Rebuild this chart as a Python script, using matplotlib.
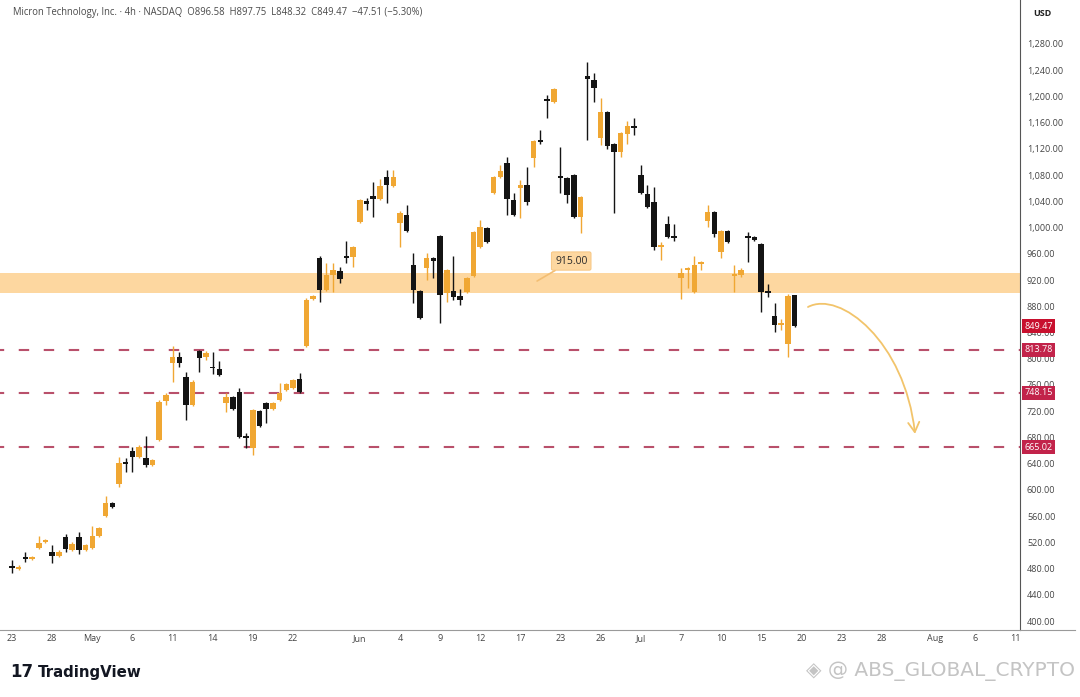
import matplotlib
matplotlib.use("Agg")
import matplotlib.pyplot as plt
from matplotlib.patches import FancyArrowPatch
from matplotlib.path import Path
import numpy as np

# ---------------- data ----------------
opens = [
    483.9, 479.3, 497.6, 494.6, 511.3, 520.5, 505.2, 499.1, 527.6, 508.3,
    528.1, 508.3, 511.3, 529.6, 560.2, 580.0, 609.0, 642.5, 659.3, 650.1,
    648.6, 637.9, 676.1, 735.5, 793.5, 802.6, 772.1, 729.4, 811.8, 802.6,
    787.4, 784.3, 732.5, 741.6, 749.3, 682.1, 663.9, 720.3, 732.5, 723.3,
    737.1, 752.3, 755.4, 769.1, 819.4, 891.1, 953.6, 904.8, 927.7, 933.8,
    956.7, 955.2, 1008.5, 1040.6, 1048.2, 1043.6, 1077.2, 1063.4, 1007.0, 1019.2,
    942.9, 903.3, 938.4, 953.6, 987.2, 900.2, 903.3, 895.7, 901.8, 926.2,
    970.4, 999.4, 1052.8, 1077.2, 1098.5, 1042.1, 1060.4, 1065.0, 1106.1, 1133.6,
    1196.1, 1191.5, 1078.7, 1075.6, 1080.2, 1016.2, 1231.2, 1225.1, 1136.6, 1176.3,
    1127.5, 1115.3, 1142.7, 1154.9, 1080.2, 1051.3, 1039.1, 970.4, 1005.5, 987.2,
    923.1, 935.3, 901.8, 944.5, 1010.0, 1023.8, 962.8, 994.8, 926.2, 927.7,
    987.2, 985.6, 975.0, 903.3, 865.2, 851.5, 822.6, 896.58]
highs = [
    493.0, 485.4, 505.2, 499.1, 529.1, 525.1, 516.0, 508.3, 532.2, 520.5,
    535.7, 517.5, 544.9, 543.3, 590.7, 581.5, 650.1, 648.6, 665.4, 668.4,
    682.1, 647.1, 737.1, 747.7, 820.0, 810.3, 779.8, 767.6, 813.3, 811.8,
    810.3, 796.5, 747.7, 743.2, 755.4, 686.7, 723.3, 721.8, 734.0, 734.0,
    763.0, 763.0, 769.1, 778.2, 892.6, 897.2, 956.7, 946.0, 946.0, 939.9,
    979.6, 971.9, 1043.6, 1045.1, 1069.5, 1074.1, 1087.8, 1087.8, 1025.3, 1034.5,
    961.3, 904.8, 961.3, 955.2, 988.7, 936.9, 956.7, 906.4, 924.7, 994.8,
    1011.6, 1000.9, 1078.7, 1095.5, 1107.7, 1052.8, 1072.6, 1092.4, 1133.6, 1148.9,
    1202.2, 1212.9, 1122.9, 1077.2, 1081.7, 1048.2, 1252.5, 1235.8, 1197.6, 1177.8,
    1129.0, 1145.8, 1162.5, 1167.1, 1095.5, 1065.0, 1061.9, 978.0, 1017.7, 1005.5,
    938.4, 939.9, 956.7, 949.0, 1034.5, 1025.3, 996.3, 996.3, 942.9, 938.4,
    993.3, 987.2, 976.5, 914.0, 885.0, 860.6, 898.7, 897.75]
lows = [
    473.2, 477.8, 490.0, 493.1, 509.8, 519.0, 488.5, 497.6, 505.2, 506.8,
    502.2, 506.8, 509.8, 528.1, 558.6, 572.4, 604.4, 627.2, 627.2, 648.6,
    634.9, 636.4, 674.5, 729.4, 764.5, 787.4, 706.6, 727.9, 779.8, 798.1,
    776.7, 773.7, 718.8, 721.8, 679.1, 663.9, 653.2, 695.9, 702.0, 721.8,
    735.5, 750.8, 753.8, 747.7, 817.9, 889.6, 886.5, 903.3, 901.8, 915.5,
    946.0, 939.9, 1007.0, 1026.8, 1016.2, 1042.1, 1037.5, 1061.9, 970.4, 993.3,
    885.0, 860.6, 920.1, 923.1, 854.5, 886.5, 889.6, 882.0, 900.2, 924.7,
    968.9, 976.5, 1051.3, 1075.6, 1019.2, 1017.7, 1014.6, 1034.5, 1092.4, 1127.5,
    1167.1, 1190.0, 1052.8, 1037.5, 1014.6, 991.8, 1133.6, 1191.5, 1126.0, 1119.9,
    1022.3, 1107.7, 1127.5, 1141.2, 1051.3, 1029.9, 965.8, 950.6, 984.1, 979.6,
    891.1, 907.9, 900.2, 935.3, 1000.9, 985.6, 953.6, 976.5, 901.8, 924.7,
    947.5, 979.6, 871.3, 894.1, 840.9, 843.9, 802.7, 848.32]
closes = [
    480.8, 482.4, 494.6, 497.6, 519.0, 523.5, 499.1, 505.2, 509.8, 517.5,
    508.3, 516.0, 529.6, 541.8, 580.0, 573.9, 641.0, 639.5, 650.1, 665.4,
    637.9, 645.6, 734.0, 744.7, 802.6, 793.5, 729.4, 764.5, 801.1, 808.7,
    785.9, 775.2, 741.6, 723.3, 680.6, 679.1, 721.8, 697.4, 723.3, 732.5,
    747.7, 761.5, 767.6, 749.3, 889.6, 895.7, 904.8, 927.7, 935.3, 921.6,
    953.6, 970.4, 1042.1, 1036.0, 1043.6, 1063.4, 1065.0, 1077.2, 1022.3, 994.8,
    904.8, 862.1, 953.6, 949.0, 897.2, 935.3, 894.1, 889.6, 923.1, 993.3,
    1000.9, 978.0, 1077.2, 1086.3, 1043.6, 1019.2, 1065.0, 1039.1, 1132.1, 1130.5,
    1193.1, 1211.4, 1075.6, 1049.7, 1016.2, 1046.6, 1226.6, 1212.9, 1176.3, 1124.5,
    1115.3, 1144.3, 1154.9, 1151.9, 1052.8, 1031.5, 970.4, 973.5, 985.6, 984.1,
    930.7, 938.4, 942.9, 947.5, 1023.8, 990.2, 994.8, 978.0, 929.3, 935.3,
    984.1, 981.1, 901.8, 900.2, 851.5, 854.5, 895.7, 849.47]

x_tick_pos = [0, 6, 12, 18, 24, 30, 36, 42, 52, 58, 64, 70, 76, 82, 88,
              94, 100, 106, 112, 118, 124, 130, 138, 144, 150]
x_tick_labels = ["23", "28", "May", "6", "11", "14", "19", "22", "Jun", "4",
                 "9", "12", "17", "23", "26", "Jul", "7", "10", "15", "20",
                 "23", "28", "Aug", "6", "11"]
y_ticks = list(range(400, 1281, 40))

zone_low, zone_high = 901.0, 930.0
zone_label = 915.00
support_levels = [813.78, 748.15, 665.02]
last_close = 849.47

header = ("Micron Technology, Inc. \u00b7 4h \u00b7 NASDAQ  O896.58  H897.75  "
          "L848.32  C849.47  \u221247.51 (\u22125.30%)")

# ---------------- styling ----------------
ORANGE = "#F0A733"
BLACK = "#141414"
ZONE = "#FDD7A0"
DASH = "#B9506B"
RED = "#C8102E"
RED2 = "#C2234A"
TXT = "#444444"

plt.rcParams["font.family"] = ["Open Sans", "DejaVu Sans"]

W, H = 1080, 697
fig = plt.figure(figsize=(W / 100, H / 100), dpi=100)
fig.patch.set_facecolor("white")

plot_right_px, plot_bottom_px = 1020, 630
ax = fig.add_axes([0, 1 - plot_bottom_px / H, plot_right_px / W, plot_bottom_px / H])
ax.set_facecolor("white")

o = np.array(opens)
h = np.array(highs)
l = np.array(lows)
c = np.array(closes)
x = np.arange(len(o))
up = c >= o
cols = np.where(up, ORANGE, BLACK)

# zone band
ax.axhspan(zone_low, zone_high, color=ZONE, zorder=1, lw=0)

# support lines
for lvl in support_levels:
    ax.axhline(lvl, color=DASH, lw=1.5, linestyle=(3, (5, 7)), zorder=2)

# candles
ax.vlines(x, l, h, colors=cols, lw=1.0, zorder=3)
bottoms = np.minimum(o, c)
heights = np.maximum(np.abs(c - o), 1.8)
ax.bar(x, heights, width=0.82, bottom=bottoms, color=cols, lw=0, zorder=4)

# axes limits
ax.set_xlim(-1.8, 150.7)
ax.set_ylim(386.3, 1347.1)

# spines
for s in ["top", "left"]:
    ax.spines[s].set_visible(False)
ax.spines["right"].set_color("#555555")
ax.spines["right"].set_linewidth(0.8)
ax.spines["bottom"].set_color("#9a9a9a")
ax.spines["bottom"].set_linewidth(0.8)

ax.set_xticks(x_tick_pos)
ax.set_xticklabels(x_tick_labels)
ax.yaxis.tick_right()
ax.set_yticks(y_ticks)
ax.set_yticklabels([f"{v:,.2f}" for v in y_ticks])
ax.tick_params(axis="x", length=0, pad=3, labelsize=6.5, colors=TXT)
ax.tick_params(axis="y", length=0, pad=5, labelsize=6.5, colors=TXT)
for t in ax.get_yticklabels():
    t.set_horizontalalignment("left")

# bottom line extends under price axis
fig.add_artist(plt.Line2D([plot_right_px / W, 1075 / W],
                          [1 - plot_bottom_px / H, 1 - plot_bottom_px / H],
                          color="#9a9a9a", lw=0.8))

# price labels on axis
def axis_label(val, color):
    ax.annotate(f"{val:.2f}", xy=(1.0, val), xycoords=("axes fraction", "data"),
                xytext=(3, 0), textcoords="offset points", ha="left", va="center",
                fontsize=6.5, color="white", zorder=10, annotation_clip=False,
                bbox=dict(boxstyle="square,pad=0.28", fc=color, ec="none"))

axis_label(last_close, RED)
for lvl in support_levels:
    axis_label(lvl, RED2)

# 915.00 callout
ax.annotate(f"{zone_label:.2f}", xy=(78.5, 918.5), xytext=(83.6, 949),
            ha="center", va="center", fontsize=7.5, color="#2b2b2b", zorder=8,
            bbox=dict(boxstyle="round,pad=0.35,rounding_size=0.15", fc=ZONE, ec="#F6C27A", lw=0.6),
            arrowprops=dict(arrowstyle="-", color="#F3BE73", lw=1.2, shrinkA=0, shrinkB=0))

# curved projection arrow
verts = [(119.0, 878.9), (123.8, 904.9), (133.5, 825.7), (135.0, 685.4)]
codes = [Path.MOVETO, Path.CURVE4, Path.CURVE4, Path.CURVE4]
arrow = FancyArrowPatch(path=Path(verts, codes), arrowstyle="->,head_length=0.7,head_width=0.4",
                        mutation_scale=10, color="#F2C46B", lw=1.3, zorder=6)
ax.add_patch(arrow)

# header and currency
fig.text(13 / W, 1 - 12 / H, header, fontsize=6.85, color="#4a4a4a", ha="left", va="center")
fig.text(1033 / W, 1 - 13 / H, "USD", fontsize=6.5, color="#222222", ha="left", va="center",
         fontweight="bold")

# footer
fig.text(10 / W, 1 - 672 / H, "17", fontsize=12, fontweight="bold", color="#131722",
         ha="left", va="center", family="DejaVu Sans")
fig.text(38 / W, 1 - 672 / H, "TradingView", fontsize=10.8, fontweight="bold",
         color="#131722", ha="left", va="center", family="DejaVu Sans")
fig.text(1075 / W, 1 - 671 / H, "\u25c8 @ ABS_GLOBAL_CRYPTO", fontsize=14.5,
         color="#c4c4c4", ha="right", va="center", family="DejaVu Sans")

fig.savefig("out.png", dpi=100, facecolor="white")
